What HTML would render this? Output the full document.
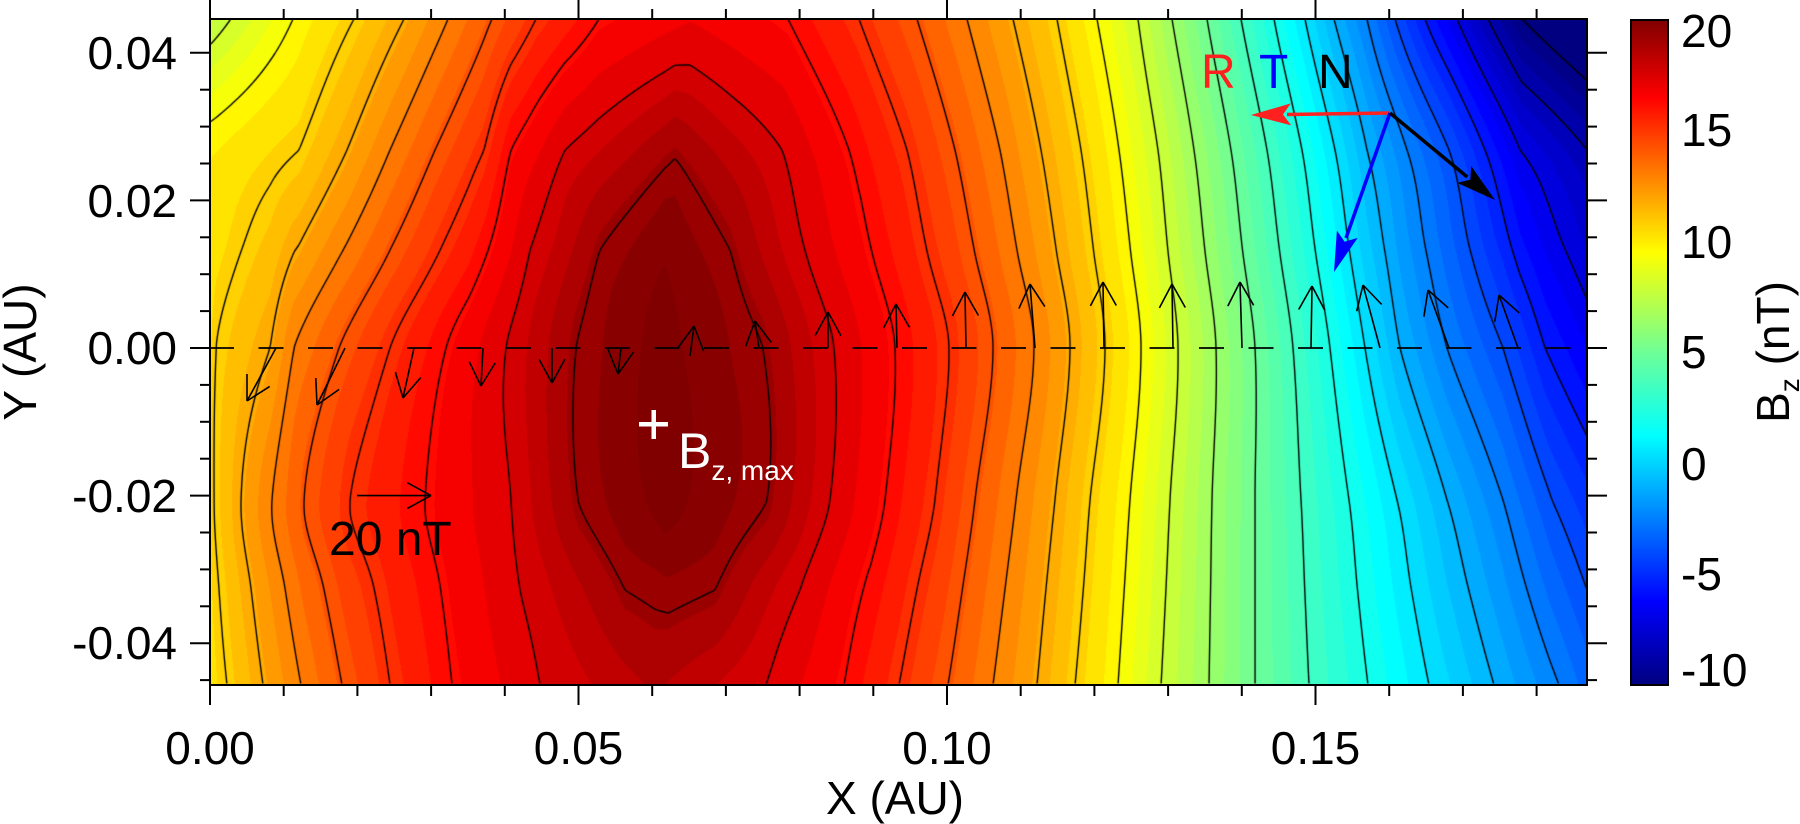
<!DOCTYPE html>
<html><head><meta charset="utf-8">
<style>
html,body{margin:0;padding:0;background:#fff;}
#wrap{position:relative;width:1800px;height:824px;overflow:hidden;background:#fff;}
#cv{position:absolute;left:210px;top:19px;}
#ov{position:absolute;left:0;top:0;}
text{font-family:"Liberation Sans",Arial,sans-serif;}
</style></head>
<body>
<div id="wrap">
<canvas id="cv" width="1377" height="666"></canvas>
<svg id="ov" width="1800" height="824" xmlns="http://www.w3.org/2000/svg">
<defs>
<linearGradient id="jet" x1="0" y1="1" x2="0" y2="0">
<stop offset="0" stop-color="#000080"/>
<stop offset="0.125" stop-color="#0000ff"/>
<stop offset="0.375" stop-color="#00ffff"/>
<stop offset="0.5" stop-color="#6eff96"/>
<stop offset="0.65" stop-color="#ffff00"/>
<stop offset="0.883" stop-color="#ff0000"/>
<stop offset="1" stop-color="#800000"/>
</linearGradient>
</defs>
<g id="dyn"></g>
<line x1="209" y1="348" x2="1587" y2="348" stroke="#000" stroke-width="1.8" stroke-dasharray="25,24.5"/>
<rect x="210" y="19" width="1377" height="666" fill="none" stroke="#000" stroke-width="2"/>
<rect x="1631" y="20" width="37" height="665" fill="url(#jet)" stroke="#000" stroke-width="2"/>
<g font-size="46" fill="#000">
<text x="1681" y="47">20</text>
<text x="1681" y="146">15</text>
<text x="1681" y="258">10</text>
<text x="1681" y="368">5</text>
<text x="1681" y="480">0</text>
<text x="1681" y="590">-5</text>
<text x="1681" y="686">-10</text>
<text x="177" y="69" text-anchor="end">0.04</text>
<text x="177" y="217" text-anchor="end">0.02</text>
<text x="177" y="364" text-anchor="end">0.00</text>
<text x="177" y="512" text-anchor="end">-0.02</text>
<text x="177" y="659" text-anchor="end">-0.04</text>
<text x="210" y="764" text-anchor="middle">0.00</text>
<text x="578.5" y="764" text-anchor="middle">0.05</text>
<text x="947" y="764" text-anchor="middle">0.10</text>
<text x="1315.5" y="764" text-anchor="middle">0.15</text>
<text x="895" y="814" text-anchor="middle">X (AU)</text>
<text transform="translate(36,352) rotate(-90)" text-anchor="middle">Y (AU)</text>
<text transform="translate(1789,352) rotate(-90)" text-anchor="middle">B<tspan font-size="28" dy="10">z</tspan><tspan dy="-10"> (nT)</tspan></text>
<text x="329" y="555" font-size="48">20 nT</text>
<text x="1201" y="88" font-size="48" fill="#ff2020">R</text>
<text x="1259" y="88" font-size="48" fill="#0000ff">T</text>
<text x="1318" y="88" font-size="48" fill="#000">N</text>
</g>
<g fill="#fff">
<rect x="639" y="422" width="29" height="4.5"/>
<rect x="651.5" y="410" width="4.5" height="29"/>
<text x="678" y="468" font-size="50">B<tspan font-size="28" dy="12">z, max</tspan></text>
</g>
</svg>
</div>
<script>
(function(){
var W=1377,H=666,ox=210,oy=19;
var base={
19:[[210,7.5],[293,9.5],[354,11],[404,12.5],[448,14],[492,15.5],[536,17],[599,18.5],[690,19.3],[788,18.5],[859,17],[917,15.5],[967,14],[1013,12.5],[1057,11],[1097,9.5],[1138,8],[1172,6.5],[1207,5],[1241,3.5],[1274,2],[1305,0.5],[1334,-1],[1367,-2.5],[1395,-4],[1425,-5.5],[1457,-7],[1488,-8.5],[1522,-10],[1587,-11.5]],
150:[[210,9.9],[299,11],[347,12.5],[390,14],[435,15.5],[484,17],[511,18.5],[565,20],[675,21.4],[782,20],[849,18.5],[907,17],[955,15.5],[1000,14],[1041,12.5],[1081,11],[1119,9.5],[1158,8],[1194,6.5],[1231,5],[1267,3.5],[1302,2],[1335,0.5],[1367,-1],[1407,-2.5],[1449,-4],[1485,-5.5],[1520,-7],[1587,-8.5]],
348:[[210,10.6],[216,11],[270,12.5],[294,14],[339,15.5],[390,17],[446,18.5],[506,20],[576,21.5],[660,22.5],[763,21.5],[834,20],[895,18.5],[949,17],[993,15.5],[1034,14],[1070,12.5],[1105,11],[1141,9.5],[1178,8],[1216,6.5],[1255,5],[1293,3.5],[1330,2],[1365,0.5],[1400,-1],[1447,-2.5],[1503,-4],[1545,-5.5],[1587,-6.5]],
500:[[210,10.7],[214,11],[241,12.5],[272,14],[304,15.5],[350,17],[425,18.5],[511,20],[578,21.5],[665,22.5],[767,21.5],[830,20],[885,18.5],[935,17],[975,15.5],[1016,14],[1055,12.5],[1090,11],[1130,9.5],[1170,8],[1212,6.5],[1255,5],[1301,3.5],[1349,2],[1397,0.5],[1447,-1],[1503,-2.5],[1552,-4],[1587,-4.8]],
685:[[210,10.4],[227,11],[263,12.5],[301,14],[342,15.5],[390,17],[452,18.5],[540,20],[655,21],[766,20],[844,18.5],[899,17],[948,15.5],[993,14],[1037,12.5],[1075,11],[1118,9.5],[1161,8],[1209,6.5],[1255,5],[1309,3.5],[1368,2],[1429,0.5],[1494,-1],[1559,-2.5],[1587,-3.2]]
};
function rv(k,u){if(u<=k[0][0])return k[0][1];for(var n=1;n<k.length;n++){if(u<=k[n][0]){var t=(u-k[n-1][0])/(k[n][0]-k[n-1][0]);return k[n-1][1]+t*(k[n][1]-k[n-1][1]);}}return k[k.length-1][1];}
function mk(k){var a=new Float32Array(W);for(var i=0;i<W;i++)a[i]=rv(k,ox+i+0.5);return a;}
var A={};for(var key in base)A[key]=mk(base[key]);
function blend(a,b,lo,hi,core){var r=new Float32Array(W);for(var i=0;i<W;i++)r[i]=(a[i]+b[i])/2;
 var vl=r[lo-ox],vh=r[hi-ox];var k=[[lo,vl]].concat(core).concat([[hi,vh]]);
 for(var i=lo-ox;i<=hi-ox;i++)r[i]=rv(k,ox+i+0.5);return r;}
var R250=blend(A[150],A[348],470,860,[[530,20],[600,21.5],[665,22.2],[730,21.5],[805,20]]);
var R590=blend(A[500],A[685],470,870,[[520,20],[625,21.5],[668,21.7],[715,21.5],[800,20]]);
var RV=[19,150,250,348,500,590,685];
var RA=[A[19],A[150],R250,A[348],A[500],R590,A[685]];
var F=new Float32Array(W*H);
var n=RV.length;
for(var j=0;j<H;j++){var v=oy+j+0.5;var r=0;while(r<n-2&&v>RV[r+1])r++;
 var h=RV[r+1]-RV[r];var t=(v-RV[r])/h;if(t<0)t=0;if(t>1)t=1;
 var h00=2*t*t*t-3*t*t+1,h10=t*t*t-2*t*t+t,h01=-2*t*t*t+3*t*t,h11=t*t*t-t*t;
 var P0=RA[r],P1=RA[r+1];
 for(var i=0;i<W;i++){
  var m0=(r>0)?(P1[i]-RA[r-1][i])/(RV[r+1]-RV[r-1]):(P1[i]-P0[i])/h;
  var m1=(r+2<n)?(RA[r+2][i]-P0[i])/(RV[r+2]-RV[r]):(P1[i]-P0[i])/h;
  var val=h00*P0[i]+h10*h*m0+h01*P1[i]+h11*h*m1;
  var lo=Math.min(P0[i],P1[i])-0.6,hi=Math.max(P0[i],P1[i])+0.6;if(val<lo)val=lo;if(val>hi)val=hi;
  F[j*W+i]=val;}}
var cv=document.getElementById('cv'),ctx=cv.getContext('2d');
var img=ctx.createImageData(W,H),d=img.data;
var CM=[[-10,0,0,128],[-6.25,0,0,255],[1.25,0,255,255],[5,110,255,150],[9.5,255,255,0],[16.5,255,0,0],[20,128,0,0]];
function col(v){if(v<=CM[0][0])return CM[0];for(var k=1;k<CM.length;k++){if(v<=CM[k][0]){var t=(v-CM[k-1][0])/(CM[k][0]-CM[k-1][0]);return [0,CM[k-1][1]+t*(CM[k][1]-CM[k-1][1]),CM[k-1][2]+t*(CM[k][2]-CM[k-1][2]),CM[k-1][3]+t*(CM[k][3]-CM[k-1][3])];}}return CM[CM.length-1];}
function cmap(v){if(v<=10)return v;if(v<=20)return 10+(v-10)*0.75;return 17.5+(v-20)*1.1;}
for(var p=0;p<W*H;p++){var val=cmap(F[p]);var q=(Math.floor(val*2)+0.5)/2;var c=col(q);
 d[p*4]=Math.round(c[1]);d[p*4+1]=Math.round(c[2]);d[p*4+2]=Math.round(c[3]);d[p*4+3]=255;}
ctx.putImageData(img,0,0);
ctx.strokeStyle='#000';ctx.lineWidth=1.4;
var s=2;
for(var L=-11.5;L<=21.6;L+=1.5){ctx.beginPath();
 for(var j=0;j+s<H;j+=s){for(var i=0;i+s<W;i+=s){
  var a=F[j*W+i],b=F[j*W+i+s],c=F[(j+s)*W+i+s],e=F[(j+s)*W+i];
  var idx=(a>L?8:0)|(b>L?4:0)|(c>L?2:0)|(e>L?1:0);if(idx==0||idx==15)continue;
  var T=[i+s*(L-a)/(b-a)+0.5,j+0.5],Rr=[i+s+0.5,j+s*(L-b)/(c-b)+0.5],Bo=[i+s*(L-e)/(c-e)+0.5,j+s+0.5],Le=[i+0.5,j+s*(L-a)/(e-a)+0.5];
  var segs;
  switch(idx){case 1:case 14:segs=[[Le,Bo]];break;case 2:case 13:segs=[[Bo,Rr]];break;case 3:case 12:segs=[[Le,Rr]];break;case 4:case 11:segs=[[T,Rr]];break;
   case 5:segs=[[T,Rr],[Le,Bo]];break;case 6:case 9:segs=[[T,Bo]];break;case 7:case 8:segs=[[T,Le]];break;case 10:segs=[[T,Le],[Bo,Rr]];break;}
  for(var k=0;k<segs.length;k++){ctx.moveTo(segs[k][0][0],segs[k][0][1]);ctx.lineTo(segs[k][1][0],segs[k][1][1]);}
 }}
 ctx.stroke();}
var out='';
function ln(x1,y1,x2,y2,c,w){out+='<line x1="'+x1+'" y1="'+y1+'" x2="'+x2+'" y2="'+y2+'" stroke="'+c+'" stroke-width="'+w+'"/>';}
for(var k=0;k<=18;k++){var u=210+k*73.7;var maj=(k%5==0);ln(u,685,u,maj?705:696,'#000',2);ln(u,19,u,maj?0:9,'#000',2);}
for(var k=-9;k<=8;k++){var y=k*0.005;var v=348-y*7380;var maj=(k%4==0);ln(maj?190:200,v,210,v,'#000',2);ln(1587,v,maj?1607:1597,v,'#000',2);}
[15,10,5,0,-5].forEach(function(val){var v=20+(20-val)*22.17;ln(1631,v,1641,v,'#000',2);ln(1658,v,1668,v,'#000',2);});
function oarrow(x1,y1,x2,y2){ln(x1,y1,x2,y2,'#000',1.6);var dx=x2-x1,dy=y2-y1,len=Math.sqrt(dx*dx+dy*dy);var ux=dx/len,uy=dy/len;var hl=27,an=0.5;
 for(var sg=-1;sg<=1;sg+=2){var ca=Math.cos(an),sa=Math.sin(an)*sg;var rx=-(ux*ca-uy*sa),ry=-(ux*sa+uy*ca);ln(x2,y2,(x2+rx*hl).toFixed(1),(y2+ry*hl).toFixed(1),'#000',1.6);}}
var vec=[[-29,53],[-28,57],[-11,50],[-2,38],[0,35],[-3,26],[4,-30],[-4,-27],[0,-36],[-1,-44],[-1,-56],[-5,-64],[-1,-66],[-1,-64],[-2,-66],[1,-62],[-17,-63],[-21,-58],[-19,-53]];
for(var m=0;m<vec.length;m++){var bu=276+69*m,bv=(m==6?356:348);oarrow(bu,bv,bu+vec[m][0],bv+vec[m][1]);}
oarrow(357,495.6,431,495.6);
function farrow(x1,y1,x2,y2,c){var dx=x2-x1,dy=y2-y1,len=Math.sqrt(dx*dx+dy*dy);var ux=dx/len,uy=dy/len;var hl=40,hw=11;
 var bx=x2-ux*hl,by=y2-uy*hl;ln(x1,y1,(bx+ux*4).toFixed(1),(by+uy*4).toFixed(1),c,3.5);
 out+='<polygon points="'+x2+','+y2+' '+(bx-uy*hw).toFixed(1)+','+(by+ux*hw).toFixed(1)+' '+(bx+ux*8).toFixed(1)+','+(by+uy*8).toFixed(1)+' '+(bx+uy*hw).toFixed(1)+','+(by-ux*hw).toFixed(1)+'" fill="'+c+'"/>';}
farrow(1390,113,1251,115,'#ff2020');
farrow(1390,113,1334,272,'#0000ff');
farrow(1390,113,1495,200,'#000');
document.getElementById('dyn').innerHTML=out;
})();
</script>
</body></html>
